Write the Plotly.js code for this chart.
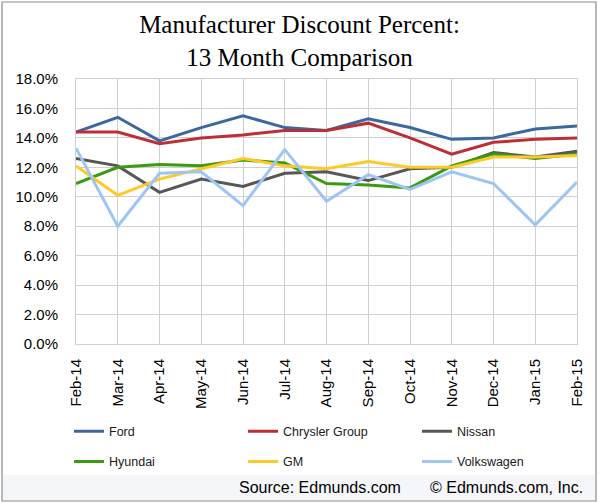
<!DOCTYPE html>
<html>
<head>
<meta charset="utf-8">
<script src="https://cdn.plot.ly/plotly-3.0.1.min.js"></script>
<style>
  html, body { margin: 0; padding: 0; background: #ffffff; }
  #chart { width: 599px; height: 503px; }
</style>
</head>
<body>
<div id="chart"></div>
<script>
const months = ["Feb-14", "Mar-14", "Apr-14", "May-14", "Jun-14", "Jul-14", "Aug-14",
                "Sep-14", "Oct-14", "Nov-14", "Dec-14", "Jan-15", "Feb-15"];

const ford       = [14.4, 15.4, 13.8, 14.7, 15.5, 14.7, 14.5, 15.3, 14.7, 13.9, 14.0, 14.6, 14.8];
const chrysler   = [14.4, 14.4, 13.6, 14.0, 14.2, 14.5, 14.5, 15.0, 14.0, 12.9, 13.7, 13.9, 14.0];
const nissan     = [12.6, 12.1, 10.3, 11.2, 10.7, 11.6, 11.7, 11.1, 11.9, 12.0, 13.0, 12.7, 13.1];
const hyundai    = [10.9, 12.0, 12.2, 12.1, 12.5, 12.3, 10.9, 10.8, 10.6, 12.1, 12.9, 12.6, 12.9];
const gm         = [12.1, 10.1, 11.2, 11.9, 12.6, 12.1, 11.9, 12.4, 12.0, 12.0, 12.7, 12.7, 12.8];
const volkswagen = [13.3,  8.0, 11.6, 11.7,  9.4, 13.2,  9.7, 11.5, 10.5, 11.7, 10.9,  8.1, 11.0];

const seriesNames  = ["Ford", "Chrysler Group", "Nissan", "Hyundai", "GM", "Volkswagen"];
const seriesValues = [ford, chrysler, nissan, hyundai, gm, volkswagen];
const seriesColors = ["#3b689f", "#bd2f37", "#575757", "#3a9a10", "#ffc928", "#9fc5f5"];

const W = 599, H = 503;
const plotL = 76, plotR = 577, plotT = 79, plotB = 344;
// container pixel -> paper coords (for shapes and notes)
const px = x => (x - plotL) / (plotR - plotL);
const py = y => (plotB - y) / (plotB - plotT);

// legend is laid out as three columns of two rows (Excel style)
const legendIds = ["legend", "legend2", "legend3"];
const legendCols = [69, 243, 417];

const traces = seriesNames.map((name, i) => ({
    x: months,
    y: seriesValues[i],
    name: name,
    type: "scatter",
    mode: "lines",
    line: { color: seriesColors[i], width: 3 },
    legend: legendIds[i % 3],
    legendgroup: name,
    hoverinfo: "skip"
}));

function makeLegend(left) {
    return {
        orientation: "v",
        xref: "container",
        yref: "container",
        x: left / W,
        xanchor: "left",
        y: 1 - 446.5 / H,
        yanchor: "middle",
        tracegroupgap: 11,
        bgcolor: "rgba(0,0,0,0)",
        borderwidth: 0,
        font: { family: "Liberation Sans, Arial, sans-serif", size: 12.5, color: "#1a1a1a" }
    };
}

const layout = {
    width: W,
    height: H,
    margin: { l: plotL, r: W - plotR, t: plotT, b: H - plotB, autoexpand: false },
    paper_bgcolor: "#ffffff",
    plot_bgcolor: "#ffffff",
    showlegend: true,
    title: {
        text: "Manufacturer Discount Percent:<br>13 Month Comparison",
        font: { family: "Liberation Serif, Times New Roman, serif", size: 25, color: "#000000" },
        x: 0.5,
        xanchor: "center",
        y: 1 - 33 / H,
        yanchor: "middle"
    },
    xaxis: {
        type: "category",
        range: [0, months.length - 1],
        showgrid: true,
        gridcolor: "#d0d0d0",
        gridwidth: 1,
        showline: true,
        linecolor: "#d0d0d0",
        mirror: true,
        tickangle: -90,
        ticks: "",
        ticklabelstandoff: 8,
        tickfont: { family: "Liberation Sans, Arial, sans-serif", size: 15, color: "#000000" },
        fixedrange: true
    },
    yaxis: {
        range: [0, 18],
        dtick: 2,
        tick0: 0,
        tickformat: ".1f",
        ticksuffix: "%",
        showgrid: true,
        gridcolor: "#d0d0d0",
        gridwidth: 1,
        zeroline: true,
        zerolinecolor: "#d0d0d0",
        showline: true,
        linecolor: "#d0d0d0",
        mirror: true,
        ticks: "",
        ticklabelstandoff: 14,
        tickfont: { family: "Liberation Sans, Arial, sans-serif", size: 15, color: "#000000" },
        fixedrange: true
    },
    legend: makeLegend(legendCols[0]),
    legend2: makeLegend(legendCols[1]),
    legend3: makeLegend(legendCols[2]),
    shapes: [
        {
            type: "rect", xref: "paper", yref: "paper", layer: "below",
            x0: px(3), x1: px(595), y0: py(475), y1: py(500),
            fillcolor: "#f4f6f9", line: { width: 0 }
        },
        {
            type: "rect", xref: "paper", yref: "paper", layer: "above",
            x0: px(2), x1: px(596), y0: py(2), y1: py(501),
            fillcolor: "rgba(0,0,0,0)", line: { color: "#8a8a8a", width: 1.2 }
        }
    ],
    annotations: [
        {
            text: "Source: Edmunds.com",
            xref: "paper", yref: "paper",
            x: px(237), y: py(487), xanchor: "left", yanchor: "middle",
            showarrow: false,
            font: { family: "Liberation Sans, Arial, sans-serif", size: 16, color: "#000000" }
        },
        {
            text: "© Edmunds.com, Inc.",
            xref: "paper", yref: "paper",
            x: px(585), y: py(487), xanchor: "right", yanchor: "middle",
            showarrow: false,
            font: { family: "Liberation Sans, Arial, sans-serif", size: 16, color: "#000000" }
        }
    ]
};

Plotly.newPlot("chart", traces, layout, { displayModeBar: false, staticPlot: true });
</script>
</body>
</html>
